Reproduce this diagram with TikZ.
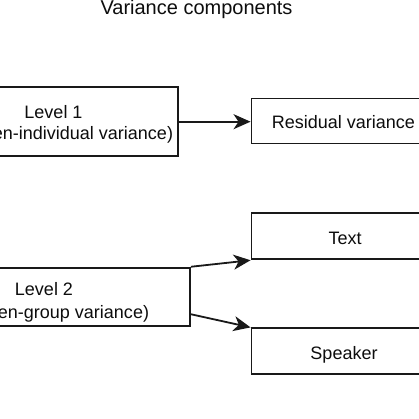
\documentclass[tikz,border=0pt]{standalone}
\usepackage{fontspec}
\setmainfont{Liberation Sans}
\usetikzlibrary{arrows.meta}
\tikzset{
  box/.style={draw=black!90, line width=1.9pt, inner sep=0pt, rectangle},
  lbl/.style={inner sep=0pt, anchor=base, text=black!95, font=\fontsize{18}{22}\selectfont},
  conn/.style={draw=black!90, line width=1.8pt, -{Stealth[length=17pt,width=15pt,inset=5pt]}},
}
\begin{document}
\begin{tikzpicture}[x=1pt,y=-1pt]
\useasboundingbox (0,0) rectangle (419,419);
\fill[white] (0,0) rectangle (419,419);
\clip (0,0) rectangle (419,419);
% title
\node[lbl, font=\fontsize{20}{24}\selectfont] (title) at (196.5,14.5) {Variance components};
% boxes
\node[box, minimum width=249pt, minimum height=69pt] (L1) at (53.5,121.5) {};
\node[box, minimum width=185pt, minimum height=45pt] (Res) at (344,121) {};
\node[box, minimum width=185pt, minimum height=46pt] (Txt) at (344,236.3) {};
\node[box, minimum width=185pt, minimum height=45.7pt] (Spk) at (344,351.2) {};
\node[box, minimum width=290pt, minimum height=58.3pt] (L2) at (45,296.85) {};
% labels
\node[lbl] (L1a) at (53.5,118.3) {Level 1};
\node[lbl] (L1b) at (55,140) {(Between-individual variance)};
\node[lbl] (Resa) at (343.5,128.3) {Residual variance};
\node[lbl] (Txta) at (345,244) {Text};
\node[lbl] (Spka) at (344,359.3) {Speaker};
\node[lbl] (L2a) at (44,295) {Level 2};
\node[lbl] (L2b) at (45.5,318.3) {(Between-group variance)};
% connectors
\draw[conn] (L1.east |- 0,121.7) -- (Res.west |- 0,121.7);
\draw[conn] (L2.north east) -- (Txt.south west);
\draw[conn] ([yshift=12.7pt]L2.south east) -- (Spk.north west);
\end{tikzpicture}
\end{document}
